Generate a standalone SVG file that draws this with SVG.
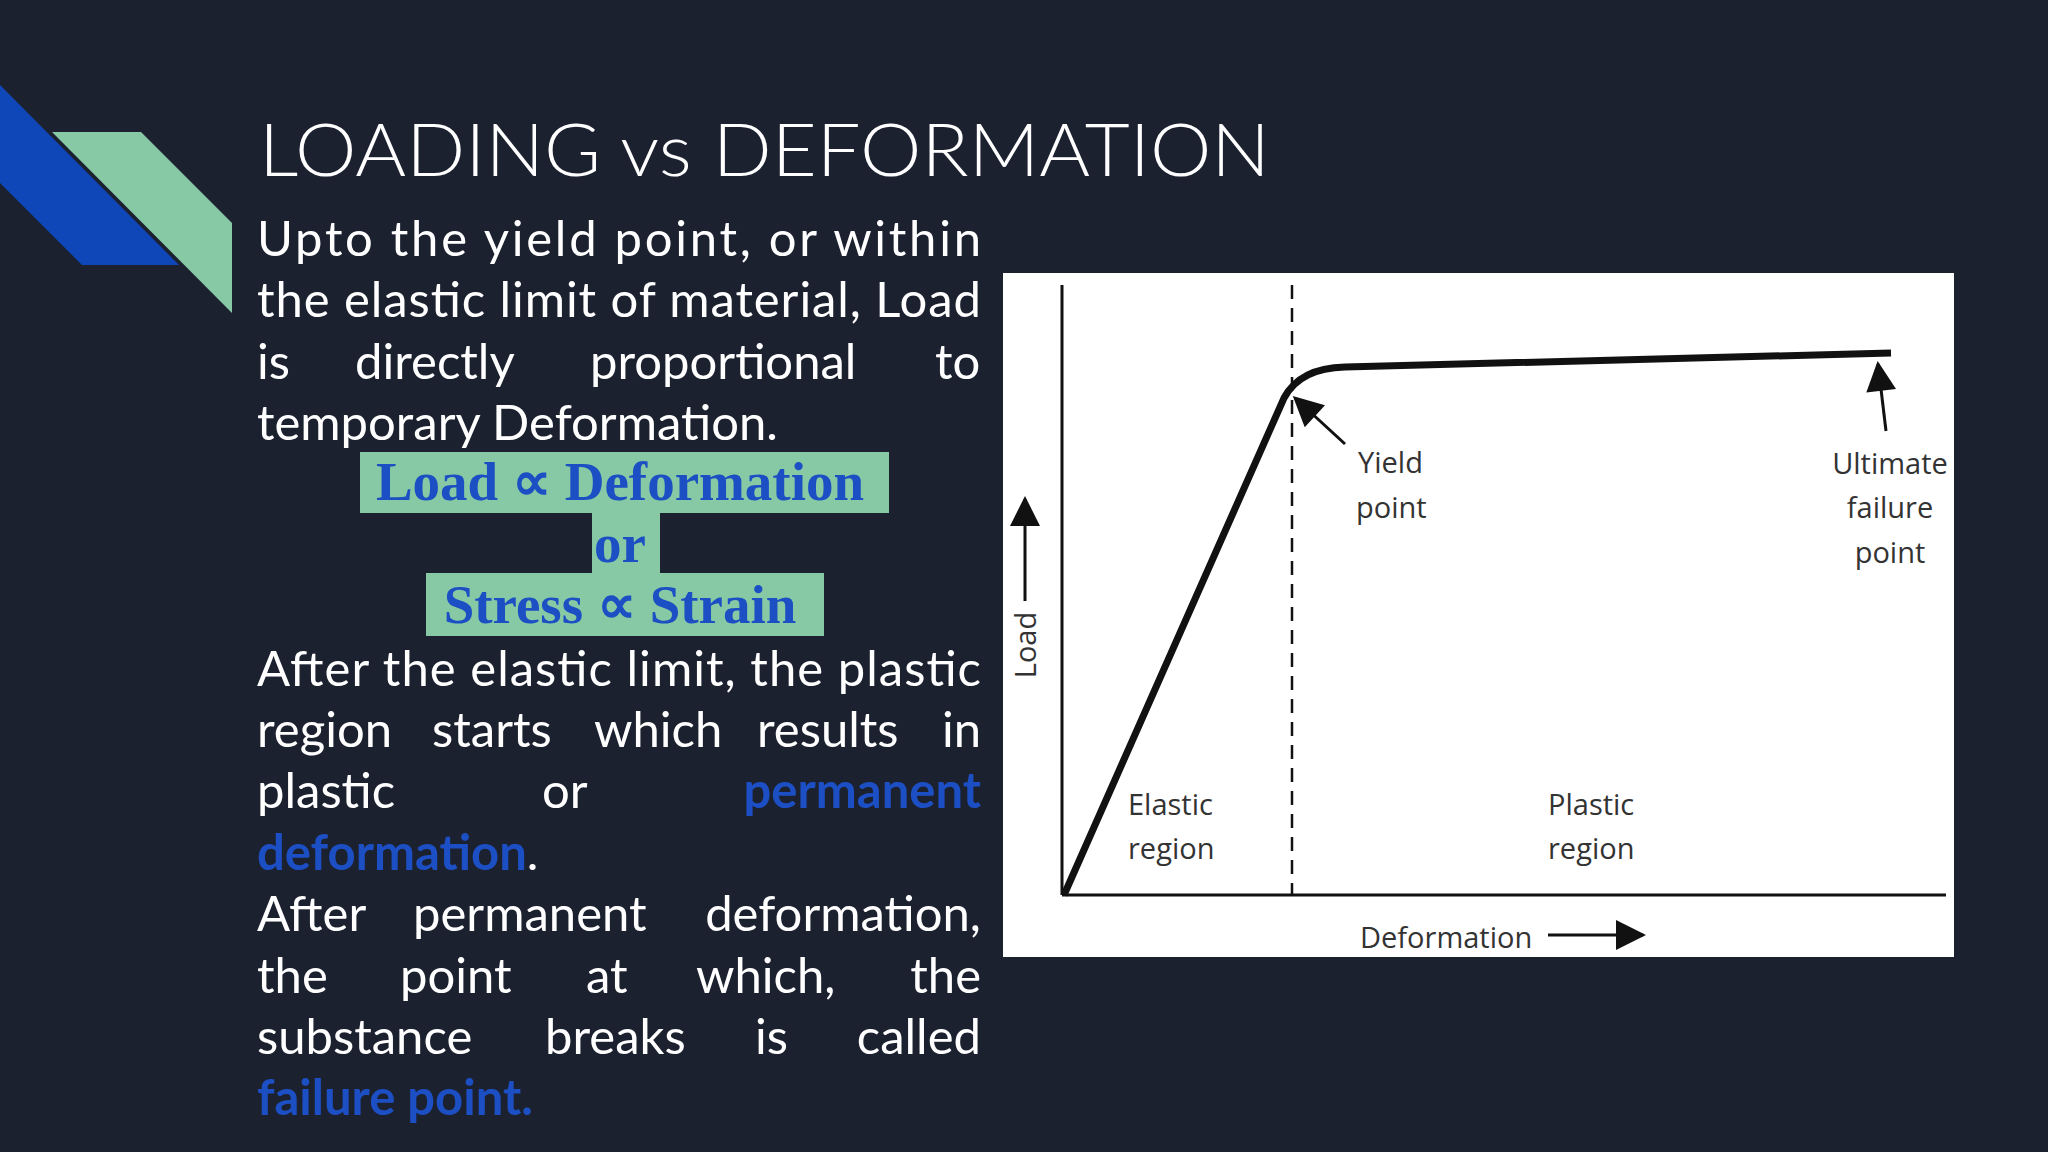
<svg xmlns="http://www.w3.org/2000/svg" width="2048" height="1152" viewBox="0 0 2048 1152">
<defs>
<style>
.b{font-family:Lato,"Open Sans",sans-serif;font-size:49px;fill:#ffffff}
.bl{fill:#1d4fc4;font-weight:bold}
.h{font-family:"Liberation Serif",serif;font-weight:bold;font-size:55px;fill:#1d4fc4;text-anchor:middle}
.g{font-family:"Open Sans","Liberation Sans",sans-serif;font-size:29px;fill:#333}
.gc{text-anchor:middle}
</style>
<marker id="ah" viewBox="0 0 10 10" refX="9" refY="5" markerWidth="10" markerHeight="8" markerUnits="userSpaceOnUse" orient="auto"><path d="M0,0L10,5L0,10z" fill="#111"/></marker>
<marker id="ah2" viewBox="0 0 10 10" refX="9" refY="5" markerWidth="32" markerHeight="30" markerUnits="userSpaceOnUse" orient="auto"><path d="M0,0L10,5L0,10z" fill="#111"/></marker>
</defs>
<rect width="2048" height="1152" fill="#1c2130"/>
<g id="deco">
<polygon points="0,85 179,265 82,265 0,183" fill="#0f47b8"/>
<polygon points="52,132 141,132 232,223 232,313" fill="#86c9a4"/>
</g>
<text x="259" y="176" font-family="Lato,sans-serif" font-weight="300" font-size="73" fill="#fff" textLength="1011" lengthAdjust="spacingAndGlyphs">LOADING vs DEFORMATION</text>
<g id="body">
<text class="b" x="257" y="256" textLength="724" lengthAdjust="spacing">Upto the yield point, or within</text>
<text class="b" x="257" y="317" textLength="724" lengthAdjust="spacing">the elastic limit of material, Load</text>
<text class="b" y="379"><tspan x="257">is</tspan><tspan x="355">directly</tspan><tspan x="590">proportional</tspan><tspan x="935">to</tspan></text>
<text class="b" x="257" y="440">temporary Deformation.</text>
<rect x="360" y="452" width="529" height="61" fill="#86c9a4"/>
<rect x="592" y="513" width="68" height="60" fill="#86c9a4"/>
<rect x="426" y="573" width="398" height="63" fill="#86c9a4"/>
<text class="h" x="620" y="500">Load ∝ Deformation</text>
<text class="h" x="620" y="562">or</text>
<text class="h" x="620" y="623">Stress ∝  Strain</text>
<text class="b" x="257" y="686" textLength="724" lengthAdjust="spacing">After the elastic limit, the plastic</text>
<text class="b" y="747" x="257">region</text>
<text class="b" y="747" x="432">starts</text>
<text class="b" y="747" x="594">which</text>
<text class="b" y="747" x="757">results</text>
<text class="b" y="747" x="981" text-anchor="end">in</text>
<text class="b" y="808" x="257">plastic</text>
<text class="b" y="808" x="542">or</text>
<text class="b bl" y="808" x="981" text-anchor="end">permanent</text>
<text class="b" y="870" x="257"><tspan class="bl">deformation</tspan>.</text>
<text class="b" y="931" x="257">After</text>
<text class="b" y="931" x="413">permanent</text>
<text class="b" y="931" x="981" text-anchor="end">deformation,</text>
<text class="b" y="993" x="257">the</text>
<text class="b" y="993" x="400">point</text>
<text class="b" y="993" x="586">at</text>
<text class="b" y="993" x="696">which,</text>
<text class="b" y="993" x="981" text-anchor="end">the</text>
<text class="b" y="1054" x="257">substance</text>
<text class="b" y="1054" x="545">breaks</text>
<text class="b" y="1054" x="755">is</text>
<text class="b" y="1054" x="981" text-anchor="end">called</text>
<text class="b bl" y="1115" x="257">failure point.</text>
</g>
<g id="chart">
<rect x="1003" y="273" width="951" height="684" fill="#fff"/>
<line x1="1062" y1="285" x2="1062" y2="895" stroke="#111" stroke-width="3"/>
<line x1="1062" y1="895" x2="1946" y2="895" stroke="#111" stroke-width="3"/>
<line x1="1292" y1="285" x2="1292" y2="895" stroke="#111" stroke-width="2.5" stroke-dasharray="14,9"/>
<path d="M1064,895 L1284,398 Q1300,368 1345,367 L1891,353" fill="none" stroke="#111" stroke-width="7"/>
<g id="connectors">
<line x1="1345" y1="444" x2="1295" y2="398" stroke="#111" stroke-width="3" marker-end="url(#ah2)"/>
<line x1="1886" y1="431" x2="1878" y2="364" stroke="#111" stroke-width="3" marker-end="url(#ah2)"/>
<line x1="1548" y1="935" x2="1643" y2="935" stroke="#111" stroke-width="3" marker-end="url(#ah2)"/>
<line x1="1025" y1="601" x2="1025" y2="499" stroke="#111" stroke-width="3" marker-end="url(#ah2)"/>
</g>
<text class="g" x="1358" y="473">Yield</text>
<text class="g" x="1356" y="518">point</text>
<text class="g gc" x="1890" y="474">Ultimate</text>
<text class="g gc" x="1890" y="518">failure</text>
<text class="g gc" x="1890" y="563">point</text>
<text class="g" x="1128" y="815">Elastic</text>
<text class="g" x="1128" y="859">region</text>
<text class="g" x="1548" y="815">Plastic</text>
<text class="g" x="1548" y="859">region</text>
<text class="g" x="1360" y="948">Deformation</text>
<text class="g gc" transform="translate(1036,645) rotate(-90)">Load</text>
</g>
</svg>
